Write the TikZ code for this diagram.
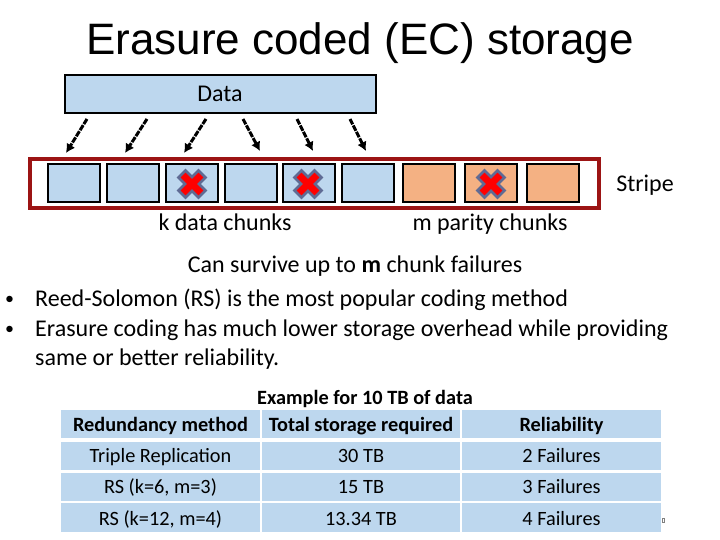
\documentclass[tikz,border=0pt]{standalone}
\usepackage{fontspec}
\setmainfont{Carlito}
\newfontfamily\titlefont{Liberation Sans}
\usetikzlibrary{arrows.meta}

\definecolor{chunkblue}{HTML}{BDD7EE}
\definecolor{chunkorange}{HTML}{F4B183}
\definecolor{stripered}{HTML}{9C1414}
\definecolor{crossedge}{HTML}{5F6B94}

\tikzset{
    x=1pt, y=-1pt,
    box_data/.style={draw=black, line width=2pt, fill=chunkblue, minimum width=52pt, minimum height=38pt, inner sep=0pt, anchor=center},
    box_parity/.style={box_data, fill=chunkorange},
    box_stripe/.style={draw=stripered, line width=3.8pt, minimum width=569pt, minimum height=49pt, inner sep=0pt},
    label_big/.style={font=\fontsize{24}{28}\selectfont, inner sep=0pt, text=black, anchor=base},
    label_bullet/.style={font=\fontsize{18}{20}\selectfont, inner sep=0pt, text=black, anchor=base west},
    cell/.style={fill=chunkblue, minimum width=198.5pt, minimum height=28pt, inner sep=0pt, font=\fontsize{20.3}{24}\selectfont, text=black, text height=14pt, text depth=2pt},
    cell_head/.style={cell, font=\fontsize{20.3}{24}\selectfont\bfseries, text height=16pt},
    cell_last/.style={cell, minimum height=29pt, text height=17pt},
    line/.style={draw, line width=3pt, dash pattern=on 6pt off 1.2pt, -{Latex[length=9pt,width=10pt]}},
    fail_cross/.style={fill=red, draw=crossedge, line width=2.8pt, line join=miter}
}
\newcommand{\failcross}[2]{%
    \draw[fail_cross, shift={(#1,#2)}] (-6.5,-13.5) -- (0,-7) -- (6.5,-13.5) -- (13.5,-6.5) -- (7,0) -- (13.5,6.5) -- (6.5,13.5) -- (0,7) -- (-6.5,13.5) -- (-13.5,6.5) -- (-7,0) -- (-13.5,-6.5) -- cycle;}

\begin{document}
\begin{tikzpicture}
    \useasboundingbox (0,0) rectangle (720,540);

    % Title
    \node[font=\titlefont\fontsize{44}{48}\selectfont, inner sep=0pt, anchor=base] (title) at (360,55) {Erasure coded (EC) storage};

    % Data and stripe
    \node[box_data, minimum width=311pt] (data) at (220.5,94) {};
    \node[label_big] (data_label) at (220,102) {Data};
    \node[box_stripe] (stripe) at (314.5,183.5) {};

    % Chunks
    \node[box_data] (chunk_a) at (73.5,183) {};
    \node[box_data] (chunk_b) at (132.5,183) {};
    \node[box_data] (chunk_c) at (191.5,183) {};
    \node[box_data] (chunk_d) at (250.5,183) {};
    \node[box_data] (chunk_e) at (309,183) {};
    \node[box_data] (chunk_f) at (368,183) {};
    \node[box_parity] (parity_a) at (429,183) {};
    \node[box_parity] (parity_b) at (490.5,183) {};
    \node[box_parity] (parity_c) at (552.5,183) {};

    % Failures
    \failcross{192}{184}
    \failcross{308}{184}
    \failcross{491}{184}

    % Arrow ends
    \coordinate (from_a) at (87,119);
    \coordinate (from_b) at (147,119);
    \coordinate (from_c) at (206,119);
    \coordinate (from_d) at (243,119);
    \coordinate (from_e) at (297,119);
    \coordinate (from_f) at (350,119);
    \coordinate (to_a) at (66,153);
    \coordinate (to_b) at (125,153);
    \coordinate (to_c) at (184,153);
    \coordinate (to_d) at (260,151);
    \coordinate (to_e) at (313,151);
    \coordinate (to_f) at (366,151);

    % Lines
    \path[line] (from_a) -- (to_a);
    \path[line] (from_b) -- (to_b);
    \path[line] (from_c) -- (to_c);
    \path[line] (from_d) -- (to_d);
    \path[line] (from_e) -- (to_e);
    \path[line] (from_f) -- (to_f);

    % Labels
    \node[label_big] (stripe_label) at (645,191.5) {Stripe};
    \node[label_big] (k_label) at (225,230) {k data chunks};
    \node[label_big] (m_label) at (490,230) {m parity chunks};
    \node[label_big] (survive) at (355,272) {Can survive up to \textbf{m} chunk failures};
    \node[label_bullet] (bullet_a) at (5,304.5) {•};
    \node[label_big, anchor=base west] (text_a) at (35,306) {Reed-Solomon (RS) is the most popular coding method};
    \node[label_bullet] (bullet_b) at (5,334.5) {•};
    \node[label_big, anchor=base west] (text_b) at (35,336) {Erasure coding has much lower storage overhead while providing};
    \node[label_big, anchor=base west] (text_c) at (35,365) {same or better reliability.};

    % Table
    \node[font=\fontsize{20.3}{24}\selectfont\bfseries, inner sep=0pt, anchor=base] (example) at (365,404) {Example for 10 TB of data};
    \node[cell_head] (head_a) at (160.5,424) {Redundancy method};
    \node[cell_head] (head_b) at (361,424) {Total storage required};
    \node[cell_head] (head_c) at (561.5,424) {Reliability};
    \node[cell] (row_a_a) at (160.5,456) {Triple Replication};
    \node[cell] (row_a_b) at (361,456) {30 TB};
    \node[cell] (row_a_c) at (561.5,456) {2 Failures};
    \node[cell] (row_b_a) at (160.5,487) {RS (k=6, m=3)};
    \node[cell] (row_b_b) at (361,487) {15 TB};
    \node[cell] (row_b_c) at (561.5,487) {3 Failures};
    \node[cell_last] (row_c_a) at (160.5,517.5) {RS (k=12, m=4)};
    \node[cell_last] (row_c_b) at (361,517.5) {13.34 TB};
    \node[cell_last] (row_c_c) at (561.5,517.5) {4 Failures};

    % Clipped mark beside the table
    \draw[gray, line width=0.8pt] (662,518) rectangle (664,522);
\end{tikzpicture}
\end{document}
